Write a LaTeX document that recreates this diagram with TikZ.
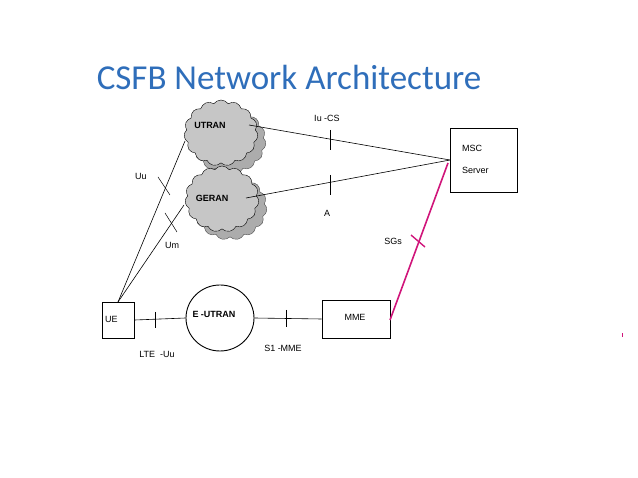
\documentclass[tikz,border=0pt]{standalone}
\usepackage{fontspec}
\setmainfont{Liberation Sans}
\newfontfamily\titlefont{Carlito}
\usetikzlibrary{shapes.symbols,shapes.geometric}
\definecolor{ttl}{HTML}{2F6EBA}
\definecolor{mag}{HTML}{D0157A}
\tikzset{
 px/.style={x=1pt,y=-1pt},
 cl/.style={cloud,cloud puffs=15,cloud puff arc=110,draw=black,fill=gray!45,minimum width=74pt,minimum height=66pt,inner sep=0pt},
 clsh/.style={cloud,cloud puffs=15,cloud puff arc=110,draw=gray!60!black,fill=gray!65,minimum width=74pt,minimum height=66pt},
 box/.style={draw,line width=0.9pt,inner sep=0pt},
 lbl/.style={font=\fontsize{9}{10}\selectfont,inner sep=0pt},
 blbl/.style={font=\bfseries\fontsize{9}{10}\selectfont,inner sep=0pt},
 ln/.style={line width=0.6pt},
 tick/.style={line width=0.5pt}
}
\begin{document}
\begin{tikzpicture}[px]
\useasboundingbox (0,0) rectangle (638,478);
\node[text=ttl,font=\titlefont\fontsize{35}{38}\selectfont,inner sep=0pt] (title) at (289,77) {CSFB Network Architecture};
% clouds
\node[clsh] (us) at (229,141) {};
\node[cl] (utran) at (221,133) {};
\node[blbl] (ut) at (210,125) {UTRAN};
\node[clsh] (gs) at (230,207) {};
\node[cl] (geran) at (222,199) {};
\node[blbl] (gt) at (212,198) {GERAN};
% boxes
\node[box,minimum width=32pt,minimum height=36pt] (ue) at (118.5,320) {};
\node[lbl,anchor=west] (uet) at (105,319) {UE};
\node[ellipse,draw,line width=0.9pt,minimum width=68pt,minimum height=66pt,inner sep=0pt] (eutran) at (220,318) {};
\node[blbl] (eut) at (214,314) {E -UTRAN};
\node[box,minimum width=68pt,minimum height=38pt] (mme) at (356,319) {};
\node[lbl] (mmet) at (355,317) {MME};
\node[box,minimum width=67pt,minimum height=64pt] (msc) at (483.5,160) {};
\node[lbl,anchor=west] (msct) at (462,148) {MSC};
\node[lbl,anchor=west] (srvt) at (462,170) {Server};
% connectors
\coordinate (uetop) at (118,302);
\coordinate (mscl) at (450,160);
\draw[ln] (uetop) -- (185,141);
\draw[ln] (uetop) -- (184,205);
\draw[ln] (249,125) -- (mscl);
\draw[ln] (246,198) -- (mscl);
\draw[ln] (ue.east) -- (eutran.west);
\draw[ln] (eutran.east) -- (mme.west);
\draw[mag,line width=1.6pt] (390,320) -- (448,163);
% ticks
\draw[tick] (158,177) -- (170,195);
\draw[tick] (165,213) -- (177,232);
\draw[tick] (330,130) -- (330,150);
\draw[tick] (330,175) -- (330,195);
\draw[tick] (155,312) -- (155,328);
\draw[tick] (286,310) -- (286,327);
\draw[mag,line width=1.4pt] (411,235) -- (425,247);
% labels
\node[lbl] (uu) at (141,176) {Uu};
\node[lbl] (um) at (172,245) {Um};
\node[lbl] (iucs) at (327,118) {Iu -CS};
\node[lbl] (a) at (327,213) {A};
\node[lbl] (sgs) at (393,241) {SGs};
\node[lbl] (lteuu) at (157,354) {LTE \ -Uu};
\node[lbl] (s1) at (283,348) {S1 -MME};
\fill[mag] (621.5,333) rectangle (622.5,337);
\end{tikzpicture}
\end{document}
